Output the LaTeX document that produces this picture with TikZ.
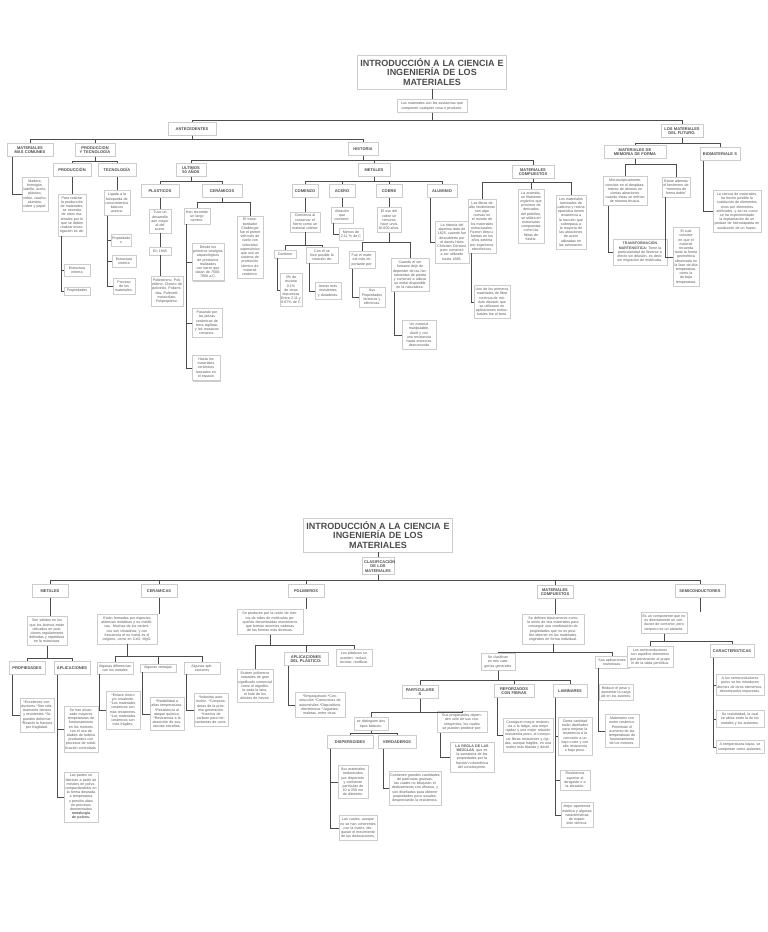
\documentclass[tikz,border=0pt]{standalone}
\usepackage{fontspec}
\setmainfont{Liberation Sans}
\usetikzlibrary{shadows}
\tikzset{
 box/.style={draw=gray!40,fill=white,drop shadow={shadow xshift=0.9pt,shadow yshift=-0.9pt,opacity=0.4},align=center,inner xsep=1.2pt,inner ysep=2.6pt,text=black!65,font=\fontsize{3.6}{4.2}\selectfont},
 hd/.style={box,font=\fontsize{4}{4.6}\selectfont\bfseries,text=black!70,inner sep=2pt,minimum height=13pt},
 ttl/.style={box,font=\fontsize{9}{9.4}\selectfont\bfseries,text=black!70,inner sep=2.5pt,text width=144pt,minimum height=34pt},
 ln/.style={draw=black!70,line width=0.7pt}
}
\newcommand\bx[5]{\node[box,text width=#4pt] (#1) at (#2,#3) {#5};}
\newcommand\hb[5]{\node[hd,text width=#4pt] (#1) at (#2,#3) {#5};}
\newcommand\tree[3]{\foreach \ch in {#3}{\draw[ln] (#1.south) -- (#1.south |- 0,#2) -| (\ch.north);}}
\newcommand\side[3]{\foreach \ch in {#3}{\draw[ln] (#1.south west) ++(#2,0) |- (\ch.west);}}
\newcommand\vl[2]{\draw[ln] (#1.south) -- (#1.south |- #2.north);}
\begin{document}
\begin{tikzpicture}[x=1pt,y=-1pt]
\useasboundingbox[fill=white] (0,0) rectangle (768,932);
% ================= TOP =================
\node[ttl] (t1) at (432,72) {INTRODUCCIÓN A LA CIENCIA E\\INGENIERÍA DE LOS\\MATERIALES};
\bx{t1d}{432}{106}{68}{Los materiales son las sustancias que componen cualquier cosa o producto.}
\hb{ant}{192}{129}{44}{ANTECEDENTES}
\hb{fut}{682}{131}{38}{LOS MATERIALES DEL FUTURO.}
\hb{mmc}{30}{150}{42}{MATERIALES MAS COMUNES}
\hb{pyt}{95}{150}{36}{PRODUCCION Y TECNOLOGÍA}
\hb{hist}{363}{149}{26}{HISTORIA}
\bx{mmcd}{35}{194}{24}{Madera, hormigón, ladrillo, acero, plástico, vidrio, caucho, aluminio, cobre y papel.}
\hb{prod}{72}{170}{34}{PRODUCCIÓN}
\hb{tec}{117}{170}{34}{TECNOLOGÍA}
\bx{prodd}{72}{215}{26}{Para realizar la producción de materiales, se necesita de otros materiales por lo que se deben realizar investigación es de:}
\bx{pe1}{77}{270}{24}{Estructura interna}
\bx{pe2}{77}{291}{24}{Propiedades}
\bx{tecd}{117}{203}{24}{Ligada a la búsqueda de conocimientos básicos acerca:}
\bx{te1}{121}{240}{18}{Propiedade s}
\bx{te2}{124}{261}{22}{Estructura interna}
\bx{te3}{124}{286}{20}{Proceso de los materiales.}
\hb{ult}{191}{170}{26}{ULTIMOS 50 AÑOS}
\hb{pla}{160}{191}{34}{PLASTICOS}
\hb{cer}{222}{191}{36}{CERÁMICOS}
\bx{plad}{160}{221}{20}{Tuvo un desarrollo aún mayor al del acero.}
\bx{pl45}{160}{251}{20}{En 1945}
\bx{plp}{167}{291}{30}{Poliestireno, Polietileno, Cloruro de polivinilo, Poliamidas, Polimetilmetacrilato, Polipropileno.}
\bx{cd1}{197}{216}{24}{Han recorrido un largo camino.}
\bx{cd2}{250}{247}{24}{El transbordador Challenger fue el primer vehículo de vuelo con velocidad supersónica que usó un sistema de protección térmico de material cerámico.}
\bx{cd3}{208}{262}{30}{Desde los primeros vestigios arqueológicos de productos realizados con barro que datan de 7500-7000 a.C.}
\bx{cd4}{207}{323}{28}{Pasando por las piezas cerámicas de terra sigillata, y los mosaicos romanos.}
\bx{cd5}{206}{368}{26}{Hasta los materiales cerámicos lanzados en el espacio}
\hb{met}{374}{170}{28}{METALES}
\hb{com}{305}{191}{22}{COMENZO}
\hb{ace}{342}{191}{22}{ACERO}
\hb{cob}{389}{191}{22}{COBRE}
\hb{alu}{442}{191}{26}{ALUMINIO}
\bx{comd}{305}{222}{28}{Comienza al conservar el hierro como un material celeste}
\bx{cont}{285}{254}{20}{Contiene}
\bx{cone}{322}{255}{30}{Con él se hizo posible la creación de:}
\bx{cimp}{291}{290}{20}{3\% de escoria 0.1\% de otras impurezas Entre 2.11 y 6.67\% de C}
\bx{armas}{328}{291}{24}{Armas más resistentes y duraderas.}
\bx{aced}{342}{215}{20}{Aleación que contiene:}
\bx{acem}{351}{234}{22}{Menos de 2.11 \% de C}
\bx{cobd}{389}{220}{22}{El uso del cobre se remonta hace unos 10.000 años.}
\bx{cfue}{362}{260}{24}{Fue el material más importante por:}
\bx{cprop}{372}{297}{24}{Sus Propiedades térmicas y eléctricas.}
\bx{ccua}{410}{275}{36}{Cuando el ser humano dejó de depender de las herramientas de piedra y comenzó a utilizar un metal disponible en la naturaleza.}
\bx{cun}{419}{335}{32}{Un material manipulable, dúctil y con una resistencia hasta entonces desconocida}
\bx{alud}{452}{242}{32}{La historia del aluminio data de 1825, cuando fue descubierto por el danés Hans Christian Oersted, pero comenzó a ser utilizado hasta 1886.}
\hb{mc}{533}{172}{38}{MATERIALES COMPUESTOS}
\bx{mc1}{482}{226}{26}{Las fibras de alto rendimiento son algo nuevas en el mundo de los materiales estructurales. Fueron descubiertas en los años setenta por ingenieros electrónicos.}
\bx{mc2}{531}{216}{24}{La aramida, un filamento orgánico que proviene de derivados del petróleo, se utiliza en estructuras compuestas como las fibras de Kevlar.}
\bx{mc3}{571}{222}{28}{Los materiales laminados de carbono y resina epoxídica tienen resistencia a la tracción que sobrepasa a la mayoría de las aleaciones de acero utilizadas en las aeronaves.}
\bx{mc4}{492}{302}{34}{Uno de los primeros materiales de fibra continua de módulo elevado que se utilizaron en aplicaciones estructurales fue el boro.}
\hb{mem}{635}{152}{58}{MATERIALES DE MEMORIA DE FORMA}
\hb{bio}{720}{154}{36}{BIOMATERIALE S}
\bx{micro}{625}{191}{42}{Microscópicamente, consiste en el desplazamiento de átomos en ciertas aleaciones cuando éstas se enfrían de manera brusca.}
\bx{exis}{676}{187}{26}{Existe además el fenómeno de ``memoria de forma doble''}
\node[box,text width=52pt] (trans) at (640,252) {\textbf{TRANSFORMACIÓN MARTENSÍTICA:} Tiene la particularidad de llevarse a efecto sin difusión, es decir, sin migración de moléculas.};
\bx{elcual}{686}{257}{24}{El cual consiste en que el material recuerda tanto la forma geométrica observada en la fase de alta temperatura, como la de baja temperatura.}
\bx{biod}{737}{211}{46}{La ciencia de materiales, ha hecho posible la sustitución de elementos vivos por elementos artificiales, y así es como se ha experimentado la implantación de un pedazo de hidroxiapatita en sustitución de un hueso.}
% top connectors
\vl{t1}{t1d}
\tree{t1d}{120}{ant,fut}
\tree{ant}{139}{mmc,pyt,hist}
\tree{hist}{160}{ult,met,mc}
\side{mmc}{6}{mmcd}
\tree{pyt}{161}{prod,tec}
\vl{prod}{prodd}\side{prodd}{4}{pe1,pe2}
\vl{tec}{tecd}\side{tecd}{4}{te1,te2,te3}
\tree{ult}{181}{pla,cer}
\vl{pla}{plad}\vl{plad}{pl45}\vl{pl45}{plp}
\tree{cer}{202}{cd1,cd2}
\side{cd1}{3}{cd3,cd4,cd5}
\tree{met}{181}{com,ace,cob,alu}
\vl{com}{comd}\tree{comd}{245}{cont,cone}
\side{cont}{4}{cimp}\side{cone}{4}{armas}
\vl{ace}{aced}\side{aced}{3}{acem}
\vl{cob}{cobd}\tree{cobd}{242}{cfue,ccua}
\side{cfue}{4}{cprop}\side{ccua}{4}{cun}
\draw[ln] (alu.south) ++(-12,0) |- (alud.west);
\tree{mc}{182}{mc1,mc2,mc3}
\side{mc1}{4}{mc4}
\tree{fut}{143}{mem,bio}
\tree{mem}{164}{micro,exis}
\side{micro}{6}{trans}\side{exis}{4}{elcual}
\draw[ln] (bio.south west) ++(4,0) |- (biod.west);
% ================= BOTTOM =================
\node[ttl] (t2) at (378,535) {INTRODUCCIÓN A LA CIENCIA E\\INGENIERÍA DE LOS\\MATERIALES};
\hb{clas}{378}{566}{28}{CLASIFICACIÓN DE LOS MATERIALES}
\hb{metb}{50}{591}{32}{METALES}
\hb{cerb}{159}{591}{32}{CERAMICAS}
\hb{pol}{306}{591}{32}{POLIMEROS}
\hb{mcb}{555}{592}{32}{MATERIALES COMPUESTOS}
\hb{sem}{700}{591}{46}{SEMICONDUCTORES}
\bx{metd}{47}{631}{38}{Son sólidos en los que los átomos están ubicados en posiciones regularmente definidas y repetitivas en la estructura.}
\hb{prp}{27}{668}{32}{PROPIEDADES}
\hb{apl}{72}{668}{32}{APLICACIONES}
\bx{prpd}{37}{715}{32}{*Excelentes conductores *Son relativamente densos y resistentes *Se pueden deformar *Resistir la fractura por fragilidad.}
\bx{apl1}{81}{729}{32}{Se han alcanzado mayores temperaturas de funcionamiento en los motores con el uso de álabes de turbina producidos con procesos de solidificación controlada.}
\node[box,text width=32pt] (apl2) at (81,797) {Las partes se fabrican a partir de metales en polvo, compactándolos en la forma deseada a temperatura y presión altas en procesos denominados \textbf{metalurgia de polvos.}};
\bx{cerd}{127}{629}{58}{Están formadas por especies atómicas metálicas y no metálicas. Muchas de los cerámicos son cristalinas, y con frecuencia el no metal es el oxígeno, como en CaO, MgO.}
\bx{cdif}{115}{668}{34}{Algunas diferencias con los metales}
\bx{cven}{158}{668}{34}{Algunas ventajas}
\bx{capl}{202}{668}{34}{Algunas aplicaciones}
\bx{cdifd}{123}{710}{32}{*Enlace iónico y/o covalente. *Los materiales cerámicos son más resistentes. *Los materiales cerámicos son más frágiles.}
\bx{cvend}{167}{714}{32}{*Estabilidad a altas temperaturas. *Resistencia al ataque químico. *Resistencia a la absorción de sustancias extrañas.}
\bx{capld}{211}{710}{32}{*Industria automotriz. *Computadoras de la próxima generación. *Insertos de carburo para herramientas de corte.}
\bx{pold}{270}{622}{64}{Se producen por la unión de cientos de miles de moléculas pequeñas denominadas monómeros que forman enormes cadenas de las formas más diversas.}
\bx{pnat}{255}{686}{34}{Existen polímeros naturales de gran significado comercial como el algodón, la seda la lana, el hule de los árboles de hevea.}
\hb{papl}{306}{659}{40}{APLICACIONES DEL PLÁSTICO:}
\bx{prec}{354}{658}{34}{Los plásticos se pueden: reducir, reciclar, reutilizar.}
\bx{pap}{320}{705}{48}{*Empaquetado *Construcción *Carrocerías de automóviles *Dispositivos electrónicos *Juguetes, maletas, entre otras.}
\bx{mcd}{553}{629}{60}{Se definen básicamente como la unión de dos materiales para conseguir una combinación de propiedades que no es posible obtener en los materiales originales en forma individual.}
\bx{mccl}{498}{662}{32}{Se clasifican en tres categorías generales}
\bx{mcap}{612}{662}{32}{Sus aplicaciones novedosas:}
\hb{part}{420}{692}{32}{PARTICULARE S}
\hb{ref}{514}{691}{36}{REFORZADOS CON FIBRAS}
\hb{lam}{570}{691}{30}{LAMINARES}
\bx{dist}{371}{724}{32}{se distinguen dos tipos básicos:}
\bx{pdep}{462}{722}{48}{Sus propiedades dependen sólo de sus constituyentes, los cuales se pueden predecir por:}
\hb{disp}{350}{742}{42}{DISPERSOIDES}
\hb{verd}{397}{742}{34}{VERDADEROS}
\bx{disp1}{353}{782}{28}{Sus materiales endurecidos por dispersión y contienen partículas de 10 a 250 nm de diámetro.}
\bx{disp2}{358}{828}{36}{Las cuales, aunque no se han coherentes con la matriz, bloquean el movimiento de las dislocaciones.}
\bx{verdd}{415}{788}{50}{Contienen grandes cantidades de partículas gruesas, las cuales no bloquean el deslizamiento con eficacia, y son diseñados para obtener propiedades poco usuales, despreciando la resistencia.}
\node[box,text width=42pt] (regla) at (472,757) {\textbf{LA REGLA DE LAS MEZCLAS}, que es la sumatoria de las propiedades por la fracción volumétrica del constituyente.};
\bx{refd}{528}{735}{48}{Consiguen mayor resistencia a la fatiga, una mejor rigidez y una mejor relación resistencia-peso, al incorporar fibras resistentes y rígidas, aunque frágiles, en una matriz más blanda y dúctil.}
\bx{lam1}{575}{736}{32}{Cierta cantidad están diseñados para mejorar la resistencia a la corrosión a un bajo costo y con alta resistencia o bajo peso.}
\bx{lam2}{575}{780}{28}{Resistencia superior al desgaste o a la abrasión.}
\bx{lam3}{577}{815}{30}{Mejor apariencia estética y algunas características de expansión térmica.}
\bx{ap1}{616}{692}{32}{Reducir el peso y aumentar la carga útil en los aviones.}
\bx{ap2}{622}{731}{32}{Materiales con motor cerámico. Permitirán el aumento de las temperaturas de funcionamiento de los motores.}
\bx{semd}{664}{623}{44}{Es un componente que no es directamente un conductor de corriente, pero tampoco es un aislante.}
\bx{sem1}{650}{657}{44}{Los semiconductores son aquellos elementos que pertenecen al grupo IV de la tabla periódica.}
\hb{car}{732}{651}{40}{CARACTERISTICAS}
\bx{car1}{740}{685}{46}{A los semiconductores puros se les introducen átomos de otros elementos, denominados impurezas.}
\bx{car2}{740}{719}{46}{Su resistividad, la cual se ubica entre la de los metales y los aislantes.}
\bx{car3}{740}{747}{46}{A temperaturas bajas, se comportan como aislantes.}
% bottom connectors
\vl{t2}{clas}
\tree{clas}{580}{metb,cerb,pol,mcb,sem}
\vl{metb}{metd}\tree{metd}{658}{prp,apl}
\side{prp}{4}{prpd}\side{apl}{4}{apl1,apl2}
\vl{cerb}{cerd}\tree{cerd}{656}{cdif,cven,capl}
\side{cdif}{3}{cdifd}\side{cven}{3}{cvend}\side{capl}{3}{capld}
\vl{pol}{pold}\tree{pold}{645}{pnat,papl,prec}
\side{papl}{5}{pap}
\vl{mcb}{mcd}\tree{mcd}{652}{mccl,mcap}
\tree{mccl}{680}{part,ref,lam}
\side{mcap}{4}{ap1,ap2}
\tree{part}{712}{dist,pdep}
\tree{dist}{733}{disp,verd}
\side{disp}{4}{disp1,disp2}\side{verd}{6}{verdd}
\side{pdep}{4}{regla}\side{ref}{4}{refd}\side{lam}{3}{lam1,lam2,lam3}
\vl{sem}{semd}\tree{semd}{641}{sem1,car}
\side{car}{4}{car1,car2,car3}
\end{tikzpicture}
\end{document}
